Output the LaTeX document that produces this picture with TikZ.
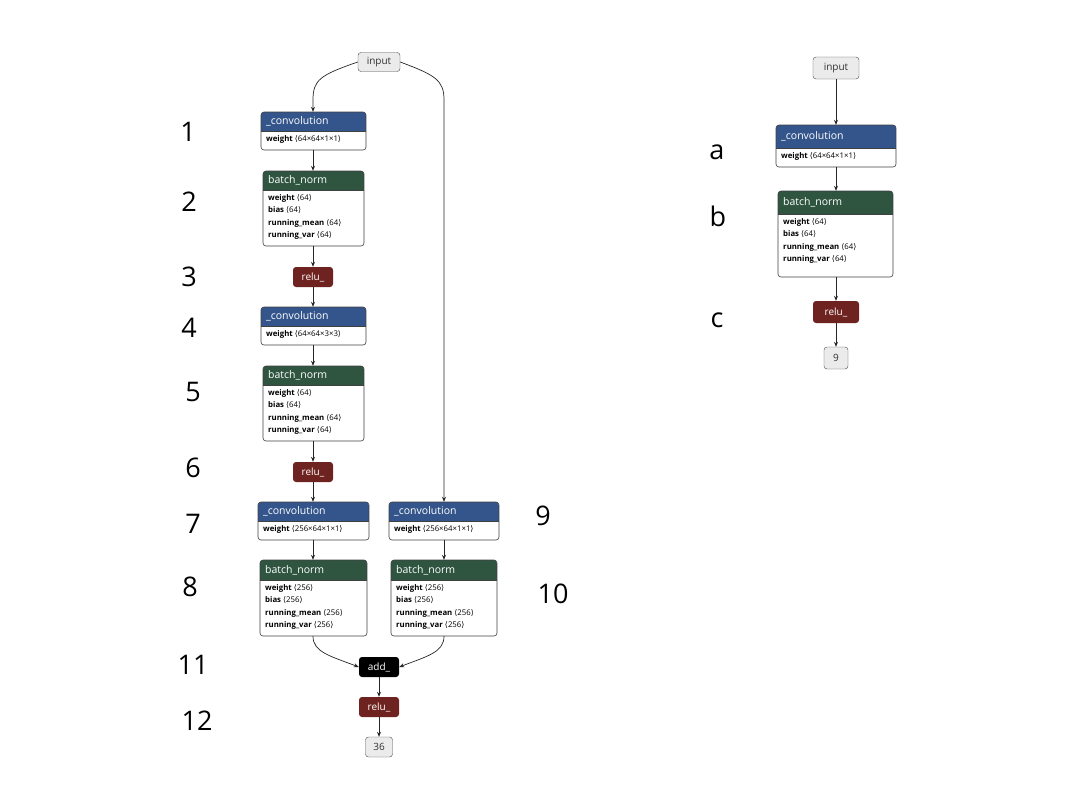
\documentclass[tikz,border=0pt]{standalone}
\usepackage{fontspec}
\setmainfont{Open Sans}
\newfontfamily\djv{DejaVu Sans}
\usetikzlibrary{fit,arrows.meta}
\newcommand\lb{{\djv\char"27E8}}
\newcommand\rb{{\djv\char"27E9}}
\definecolor{convc}{HTML}{34558B}
\definecolor{bnc}{HTML}{2F5541}
\definecolor{reluc}{HTML}{6E2320}
\tikzset{
  edge/.style={draw=black!85, line width=0.7pt, -{Stealth[length=5pt,width=4pt]}},
  pill/.style={rounded corners=3pt, inner sep=0pt, font=\fontsize{10}{12}\selectfont},
  io/.style={pill, draw=black!70, fill=black!8, text=black!80},
  relu/.style={pill, fill=reluc, text=white},
  addn/.style={pill, fill=black, text=white},
  numlab/.style={font=\fontsize{27}{30}\selectfont, text=black},
}
% name, x1, y1, x2, y2, yh, color, title, body
\newcommand\tbox[9]{%
  \node[fit={(#2,#3)(#4,#5)}, inner sep=0pt] (#1) {};
  \begin{scope}
    \clip[rounded corners=3pt] (#2,#3) rectangle (#4,#5);
    \fill[white] (#2,#3) rectangle (#4,#5);
    \fill[#7] (#2,#3) rectangle (#4,#6);
  \end{scope}
  \draw[black!75, line width=0.6pt, rounded corners=3pt] (#2,#3) rectangle (#4,#5);
  \draw[black!75, line width=0.6pt] (#2,#6) -- (#4,#6);
  \node[anchor=west, text=white, inner sep=0pt, font=\fontsize{10.5}{12}\selectfont] (#1-t) at ({#2+5},{(#3+#6)/2}) {#8};
  \node[anchor=north west, inner sep=0pt, align=left, font=\fontsize{7.8}{12.5}\selectfont] (#1-b) at ({#2+5},{#6+4}) {#9};
}
\begin{document}
\begin{tikzpicture}[x=1pt,y=-1pt]
\useasboundingbox (0,0) rectangle (1079,809);
% left graph
\node[io, minimum width=42pt, minimum height=19pt] (in1) at (379,62) {input};
\tbox{c1}{261}{112}{366}{150}{131}{convc}{\_convolution}{\textbf{weight} \lb64×64×1×1\rb}
\tbox{b2}{263}{171}{364}{246}{190}{bnc}{batch\_norm}{\textbf{weight} \lb64\rb\\\textbf{bias} \lb64\rb\\\textbf{running\_mean} \lb64\rb\\\textbf{running\_var} \lb64\rb}
\node[relu, minimum width=40pt, minimum height=20pt] (r3) at (313,277) {relu\_};
\tbox{c4}{261}{307}{366}{345}{326}{convc}{\_convolution}{\textbf{weight} \lb64×64×3×3\rb}
\tbox{b5}{263}{366}{364}{441}{385}{bnc}{batch\_norm}{\textbf{weight} \lb64\rb\\\textbf{bias} \lb64\rb\\\textbf{running\_mean} \lb64\rb\\\textbf{running\_var} \lb64\rb}
\node[relu, minimum width=40pt, minimum height=20pt] (r6) at (313,472) {relu\_};
\tbox{c7}{258}{502}{369}{540}{521}{convc}{\_convolution}{\textbf{weight} \lb256×64×1×1\rb}
\tbox{c9}{389}{502}{499}{540}{521}{convc}{\_convolution}{\textbf{weight} \lb256×64×1×1\rb}
\tbox{b8}{260}{560}{367}{636}{580}{bnc}{batch\_norm}{\textbf{weight} \lb256\rb\\\textbf{bias} \lb256\rb\\\textbf{running\_mean} \lb256\rb\\\textbf{running\_var} \lb256\rb}
\tbox{b10}{391}{560}{497}{636}{580}{bnc}{batch\_norm}{\textbf{weight} \lb256\rb\\\textbf{bias} \lb256\rb\\\textbf{running\_mean} \lb256\rb\\\textbf{running\_var} \lb256\rb}
\node[addn, minimum width=40pt, minimum height=20pt] (a11) at (379,667) {add\_};
\node[relu, minimum width=40pt, minimum height=20pt] (r12) at (379,707) {relu\_};
\node[io, minimum width=27pt, minimum height=20pt] (o36) at (379,747) {36};
\coordinate (k1) at (313,100);
\coordinate (k2) at (444,100);
\draw[edge] (in1.west) .. controls (320,75) and (313,80) .. (k1) -- (c1.north -| k1);
\draw[edge] (in1.east) .. controls (435,75) and (444,80) .. (k2) -- (c9.north -| k2);
\draw[edge] (c1.south -| k1) -- (b2.north -| k1);
\draw[edge] (b2.south -| k1) -- (r3.north);
\draw[edge] (r3.south) -- (c4.north -| k1);
\draw[edge] (c4.south -| k1) -- (b5.north -| k1);
\draw[edge] (b5.south -| k1) -- (r6.north);
\draw[edge] (r6.south) -- (c7.north -| k1);
\draw[edge] (c7.south -| k1) -- (b8.north -| k1);
\draw[edge] (c9.south -| k2) -- (b10.north -| k2);
\draw[edge] (b8.south -| k1) .. controls (313,652) and (330,656) .. (a11.west);
\draw[edge] (b10.south -| k2) .. controls (444,652) and (428,656) .. (a11.east);
\draw[edge] (a11) -- (r12);
\draw[edge] (r12) -- (o36);
% right graph
\node[io, minimum width=46pt, minimum height=22pt] (in2) at (836,68) {input};
\tbox{ca}{776}{125}{896}{167}{148}{convc}{\_convolution}{\textbf{weight} \lb64×64×1×1\rb}
\tbox{bb}{778}{191}{893}{277}{214}{bnc}{batch\_norm}{\textbf{weight} \lb64\rb\\\textbf{bias} \lb64\rb\\\textbf{running\_mean} \lb64\rb\\\textbf{running\_var} \lb64\rb}
\node[relu, minimum width=46pt, minimum height=22pt] (rc) at (836,312) {relu\_};
\node[io, minimum width=24pt, minimum height=22pt] (o9) at (836,358) {9};
\coordinate (k3) at (836,100);
\draw[edge] (in2) -- (ca.north -| k3);
\draw[edge] (ca.south -| k3) -- (bb.north -| k3);
\draw[edge] (bb.south -| k3) -- (rc);
\draw[edge] (rc) -- (o9);
% labels
\node[numlab] (l1) at (188,132) {1};
\node[numlab] (l2) at (189,202) {2};
\node[numlab] (l3) at (189,277) {3};
\node[numlab] (l4) at (189,328) {4};
\node[numlab] (l5) at (193,392) {5};
\node[numlab] (l6) at (193,468) {6};
\node[numlab] (l7) at (193,524) {7};
\node[numlab] (l8) at (190,587) {8};
\node[numlab] (l9) at (543,516) {9};
\node[numlab] (l10) at (553,594) {10};
\node[numlab] (l11) at (193,665) {11};
\node[numlab] (l12) at (197,721) {12};
\node[numlab] (la) at (717,152) {a};
\node[numlab] (lb) at (718,216) {b};
\node[numlab] (lc) at (717,320) {c};
\end{tikzpicture}
\end{document}
